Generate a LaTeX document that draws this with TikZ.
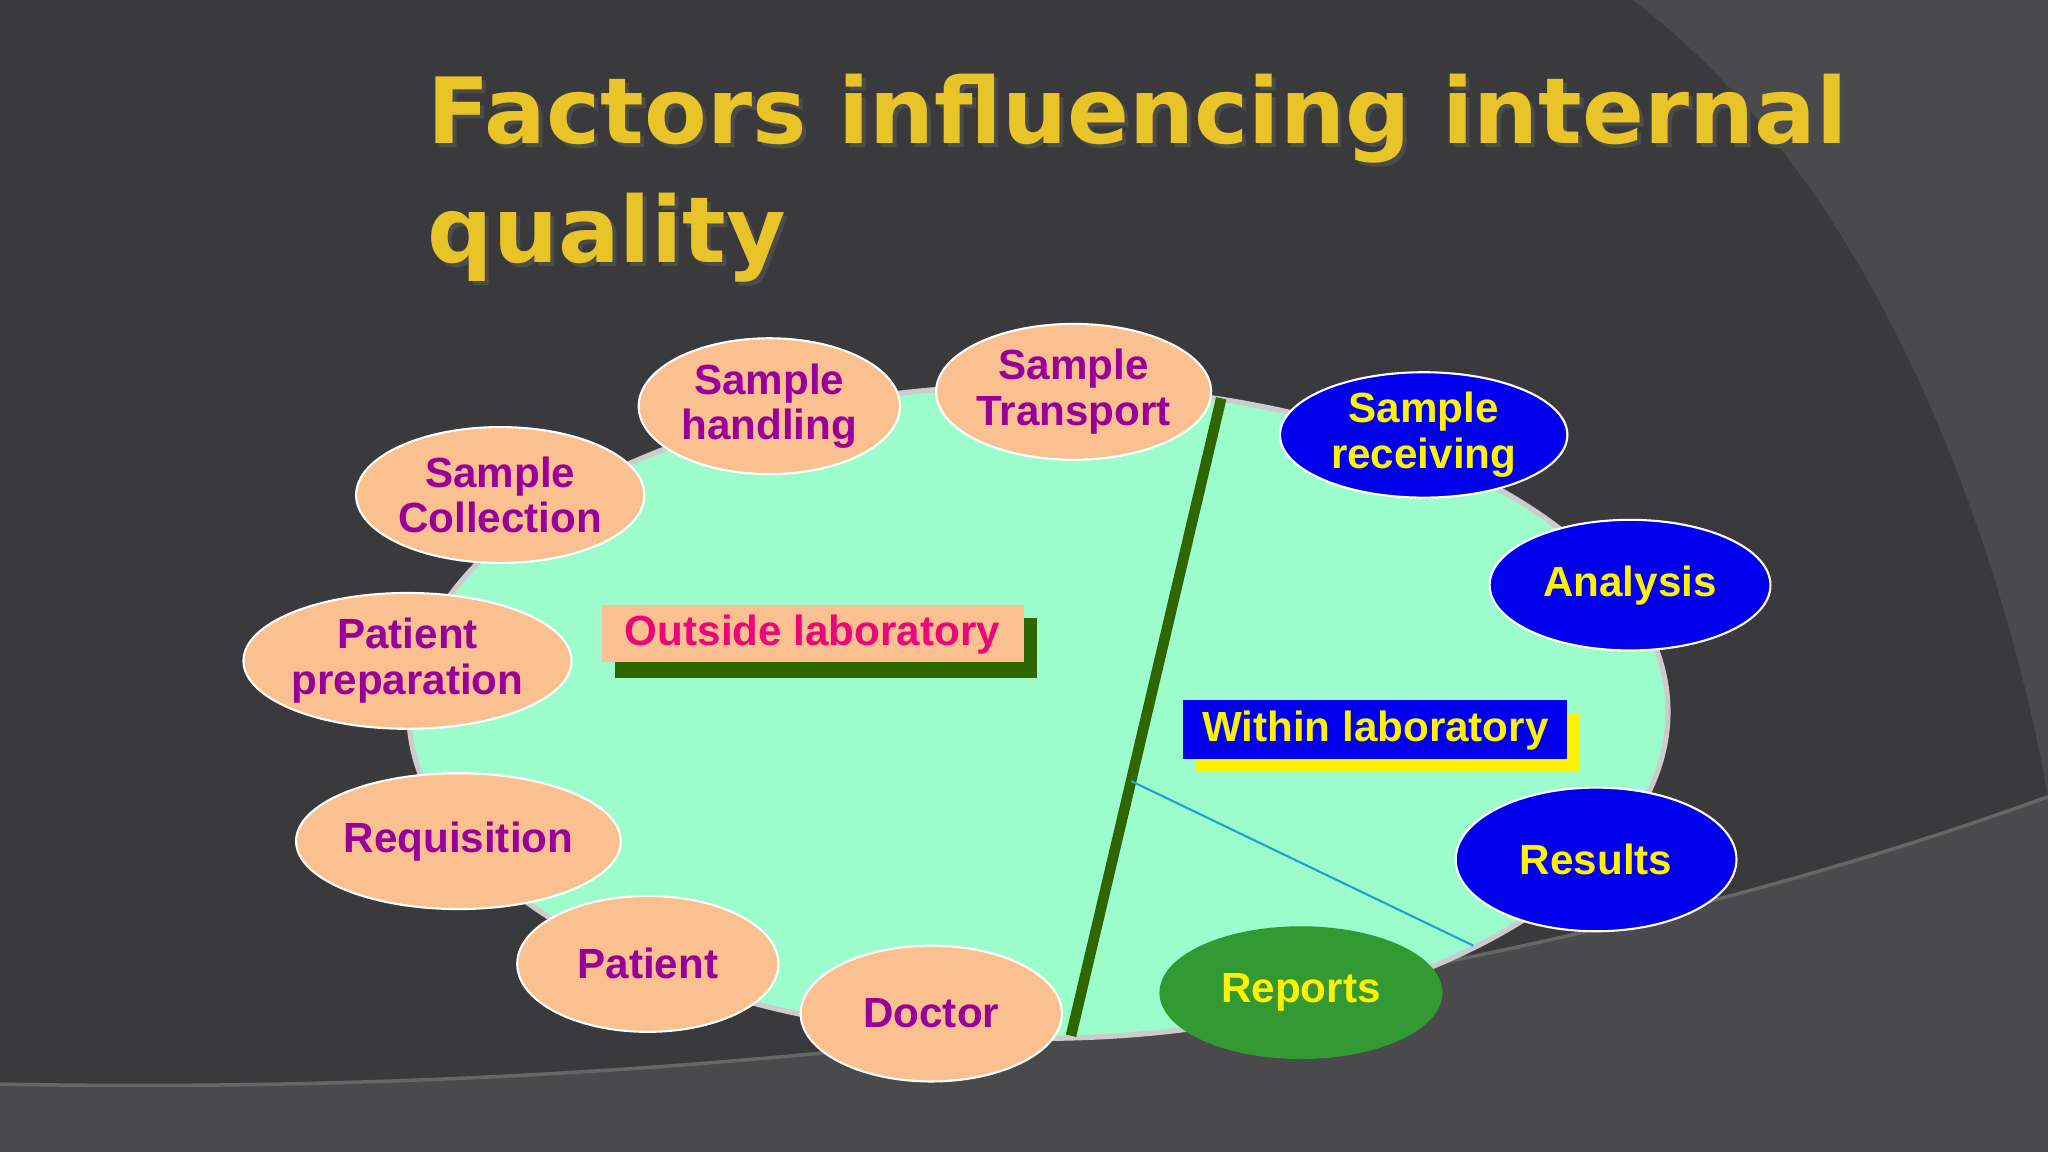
\documentclass[tikz,border=0pt]{standalone}
\usepackage{fontspec}
\setmainfont{Liberation Sans}
\newfontfamily\titlefont{DejaVu Sans}
\definecolor{bgdark}{HTML}{3A3A3C}
\definecolor{bglight}{HTML}{4A4A4C}
\definecolor{mint}{HTML}{9CFCCC}
\definecolor{peach}{HTML}{FAC090}
\definecolor{purp}{HTML}{990099}
\definecolor{blu}{HTML}{0000EE}
\definecolor{grn}{HTML}{339933}
\definecolor{dgreen}{HTML}{2E6600}
\definecolor{gold}{HTML}{E8C428}
\tikzset{
 pe/.style={ellipse,draw=white,line width=0.6pt,fill=peach,text=purp,font=\bfseries\fontsize{12}{13}\selectfont,align=center,minimum width=200*0.013061cm,minimum height=104*0.013061cm,inner sep=0pt},
 be/.style={ellipse,draw=white,line width=0.6pt,fill=blu,text=yellow,font=\bfseries\fontsize{12}{13}\selectfont,align=center,minimum width=215*0.013061cm,minimum height=100*0.013061cm,inner sep=0pt},
}
\usetikzlibrary{shapes.geometric}
\begin{document}
\begin{tikzpicture}[x=0.013061cm,y=-0.013061cm]
\fill[bgdark] (0,0) rectangle (1568,882);
\useasboundingbox (0,0) rectangle (1568,882);
\fill[bglight] (1250,0) .. controls (1450,150) and (1540,450) .. (1568,610) -- (1568,0) -- cycle;
\fill[bglight] (0,830) .. controls (500,840) and (1100,780) .. (1568,610) -- (1568,882) -- (0,882) -- cycle;
\draw[black!60,line width=1pt] (0,830) .. controls (500,840) and (1100,780) .. (1568,610);
% title
\node[anchor=north west,text=black!70,font=\titlefont\bfseries\fontsize{26}{34}\selectfont,align=left] at (321,50) {Factors influencing internal\\quality};
\node[anchor=north west,text=gold,font=\titlefont\bfseries\fontsize{26}{34}\selectfont,align=left] (title) at (318,47) {Factors influencing internal\\quality};
% big ellipse
\node[ellipse,draw=black!20,line width=1.5pt,fill=mint,minimum width=964*0.013061cm,minimum height=500*0.013061cm] (big) at (795,545) {};
\coordinate (d1) at (935,305); \coordinate (d2) at (820,793);
\draw[dgreen,line width=3pt] (d1) -- (d2);
\coordinate (c1) at (866,598); \coordinate (c2) at (1128,724);
\draw[cyan!70!teal,line width=0.6pt] (c1) -- (c2);
% boxes
\fill[dgreen] (471,473) rectangle (794,519);
\fill[peach] (461,463) rectangle (784,507);
\node[text=magenta!80!red,font=\bfseries\fontsize{12}{13}\selectfont] (out) at (622,486) {Outside laboratory};
\fill[yellow] (916,546) rectangle (1210,591);
\fill[blu] (906,536) rectangle (1200,581);
\node[text=yellow,font=\bfseries\fontsize{12}{13}\selectfont] (in) at (1053,559) {Within laboratory};
% ellipses
\node[pe] (sh) at (589,311) {Sample\\handling};
\node[pe] (st) at (822,300) {Sample\\Transport};
\node[pe] (sc) at (383,379) {Sample\\Collection};
\node[pe] (pp) at (312,506) {Patient\\preparation};
\node[pe] (rq) at (351,644) {Requisition};
\node[pe] (pa) at (496,738) {Patient};
\node[pe] (dr) at (713,776) {Doctor};
\node[be,minimum width=220*0.013061cm,minimum height=96*0.013061cm] (sr) at (1090,333) {Sample\\receiving};
\node[be] (an) at (1248,448) {Analysis};
\node[be,minimum height=110*0.013061cm] (rs) at (1222,658) {Results};
\node[be,fill=grn,draw=grn] (rp) at (996,760) {Reports};
\end{tikzpicture}
\end{document}
